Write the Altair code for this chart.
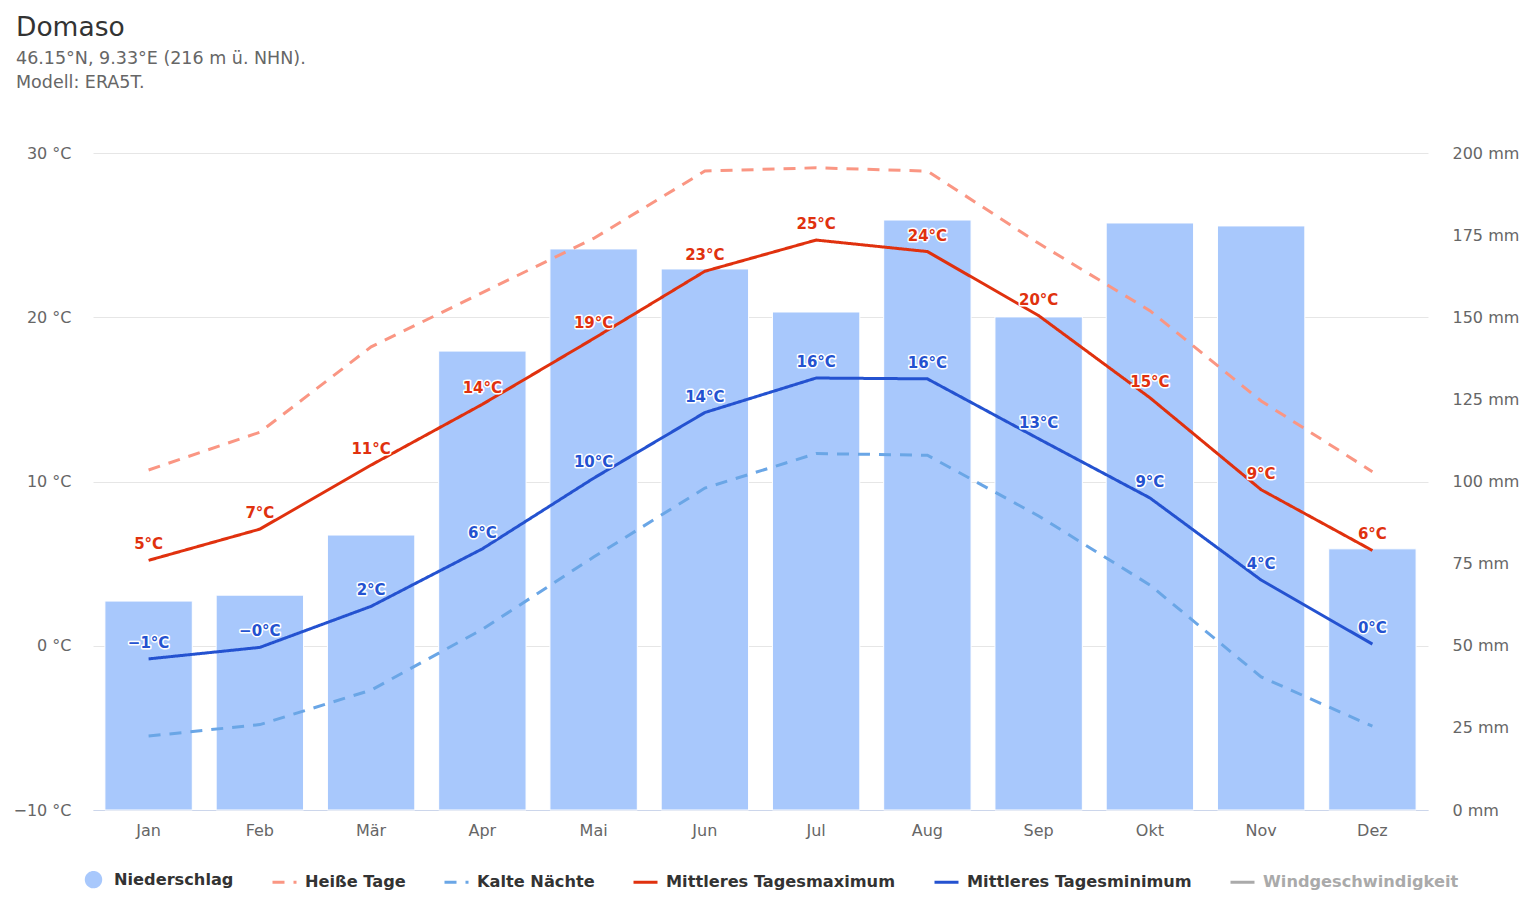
import altair as alt
import pandas as pd

# ---------------- data ----------------
months = ["Jan", "Feb", "Mär", "Apr", "Mai", "Jun", "Jul", "Aug", "Sep", "Okt", "Nov", "Dez"]
precip_mm = [63.6, 65.4, 83.7, 139.7, 170.8, 164.7, 151.6, 179.6, 150.1, 178.7, 177.8, 79.5]
temp_max = [5.2, 7.1, 11.0, 14.7, 18.7, 22.8, 24.7, 24.0, 20.1, 15.1, 9.5, 5.8]
temp_min = [-0.8, -0.1, 2.4, 5.9, 10.2, 14.2, 16.3, 16.25, 12.6, 9.0, 4.0, 0.1]
hot_days = [10.7, 13.0, 18.2, 21.5, 24.8, 28.9, 29.1, 28.9, 24.5, 20.4, 14.9, 10.6]
cold_nights = [-5.5, -4.8, -2.7, 1.0, 5.4, 9.6, 11.7, 11.6, 7.9, 3.7, -1.9, -4.9]
max_labels = ["5°C", "7°C", "11°C", "14°C", "19°C", "23°C", "25°C", "24°C", "20°C", "15°C", "9°C", "6°C"]
min_labels = ["−1°C", "−0°C", "2°C", "6°C", "10°C", "14°C", "16°C", "16°C", "13°C", "9°C", "4°C", "0°C"]

series_names = ["Niederschlag", "Heiße Tage", "Kalte Nächte",
                "Mittleres Tagesmaximum", "Mittleres Tagesminimum", "Windgeschwindigkeit"]
temp_ticks = [-10, 0, 10, 20, 30]
precip_ticks = [0, 25, 50, 75, 100, 125, 150, 175, 200]

# ---------------- styles ----------------
series_colors = ["#a8c8fc", "#fa9683", "#6aa6e6", "#e0310e", "#2452d0", "#aaaaaa"]
series_dash = [[1, 0], [12, 9], [12, 9], [1, 0], [1, 0], [1, 0]]
circle_path = "M-0.6,0A0.6,0.6,0,1,1,0.6,0A0.6,0.6,0,1,1,-0.6,0Z"
series_shapes = [circle_path, "stroke", "stroke", "stroke", "stroke", "stroke"]
FONT = "DejaVu Sans"

# ---------------- tables ----------------
df_bar = pd.DataFrame({"month": months, "precip": precip_mm, "series": "Niederschlag"})
rows = []
for name, vals in [("Heiße Tage", hot_days), ("Kalte Nächte", cold_nights),
                   ("Mittleres Tagesmaximum", temp_max), ("Mittleres Tagesminimum", temp_min)]:
    for m, v in zip(months, vals):
        rows.append({"month": m, "temp": v, "series": name})
df_lines = pd.DataFrame(rows)
df_maxlab = pd.DataFrame({"month": months, "temp": temp_max, "label": max_labels})
df_minlab = pd.DataFrame({"month": months, "temp": temp_min, "label": min_labels})

# ---------------- scales / axes ----------------
x_scale = alt.Scale(type="band", domain=months, paddingInner=0.2145, paddingOuter=0.107)
x_axis = alt.Axis(title=None, labelFont=FONT, labelFontSize=16, labelColor="#666666",
                  domainColor="#ccd6eb", domainWidth=1, ticks=False, tickSize=0,
                  labelPadding=12, grid=False, labelAngle=0)
temp_scale = alt.Scale(domain=[-10, 30], nice=False, zero=False)
temp_axis = alt.Axis(title=None, orient="left", values=temp_ticks,
                     labelExpr="format(datum.value, 'd') + ' °C'",
                     labelFont=FONT, labelFontSize=16, labelColor="#666666",
                     grid=True, gridColor="#e6e6e6", gridWidth=1,
                     domain=False, ticks=False, tickSize=0, labelPadding=22)
precip_scale = alt.Scale(domain=[0, 200], nice=False, zero=True)
precip_axis = alt.Axis(title=None, orient="right", values=precip_ticks,
                       labelExpr="datum.value + ' mm'",
                       labelFont=FONT, labelFontSize=16, labelColor="#666666",
                       grid=False, domain=False, ticks=False, tickSize=0, labelPadding=24)

fill_scale = alt.Scale(domain=series_names, range=series_colors)
stroke_scale = alt.Scale(domain=series_names, range=series_colors)
dash_scale = alt.Scale(domain=series_names, range=series_dash)
shape_scale = alt.Scale(domain=series_names, range=series_shapes)

legend = alt.Legend(
    title=None, orient="none", legendX=-13, legendY=713, direction="horizontal",
    padding=0, symbolSize=576, symbolStrokeWidth=3, symbolOpacity=1,
    labelFont=FONT, labelFontWeight="bold", labelFontSize=16.2,
    labelColor={"expr": "datum.value == 'Windgeschwindigkeit' ? '#aaaaaa' : '#333333'"},
    labelOffset=7, columnPadding=32, labelLimit=400,
)

x_enc = alt.X("month:N", sort=months, scale=x_scale, axis=x_axis, bandPosition=0.5)

# ---------------- layers ----------------
bars = alt.Chart(df_bar).mark_bar(stroke="white", strokeWidth=1).encode(
    x=alt.X("month:N", sort=months, scale=x_scale, axis=x_axis),
    y=alt.Y("precip:Q", scale=precip_scale, axis=precip_axis),
    fill=alt.Fill("series:N", scale=fill_scale, legend=legend),
)

lines = alt.Chart(df_lines).mark_line(strokeWidth=3).encode(
    x=x_enc,
    y=alt.Y("temp:Q", scale=temp_scale, axis=temp_axis),
    stroke=alt.Stroke("series:N", scale=stroke_scale, legend=legend),
    strokeDash=alt.StrokeDash("series:N", scale=dash_scale, legend=legend),
)

legend_pts = alt.Chart(df_lines).transform_filter("false").mark_point(filled=True).encode(
    fill=alt.Fill("series:N", scale=fill_scale, legend=legend),
    stroke=alt.Stroke("series:N", scale=stroke_scale, legend=legend),
    shape=alt.Shape("series:N", scale=shape_scale, legend=legend),
)


def label_layers(df, color):
    base = alt.Chart(df).encode(
        x=x_enc,
        y=alt.Y("temp:Q", scale=temp_scale, axis=temp_axis),
        text="label:N",
    )
    halo = base.mark_text(font=FONT, fontSize=15, fontWeight="bold", dy=-16,
                          baseline="middle", align="center",
                          fill="white", stroke="white", strokeWidth=3, strokeJoin="round")
    txt = base.mark_text(font=FONT, fontSize=15, fontWeight="bold", dy=-16,
                         baseline="middle", align="center", fill=color)
    return [halo, txt]


temp_layer = alt.layer(
    lines,
    *label_layers(df_maxlab, "#e0310e"),
    *label_layers(df_minlab, "#2452d0"),
    legend_pts,
)

chart = alt.layer(bars, temp_layer).resolve_scale(y="independent").properties(
    width=1335,
    height=657,
    padding={"left": 93, "top": 153, "right": 108, "bottom": 112},
    autosize=alt.AutoSizeParams(type="none"),
    title=alt.Title(
        "Domaso",
        subtitle=["46.15°N, 9.33°E (216 m ü. NHN).", "Modell: ERA5T."],
        anchor="start", frame="group", dx=-77, offset=54,
        font=FONT, fontSize=26.5, fontWeight="normal", color="#333333",
        subtitleFont=FONT, subtitleFontSize=17.5, subtitleColor="#666666",
        subtitlePadding=8, subtitleLineHeight=24,
    ),
).configure_view(stroke=None)

chart.save("out.html", embed_options={"renderer": "svg", "actions": False})
